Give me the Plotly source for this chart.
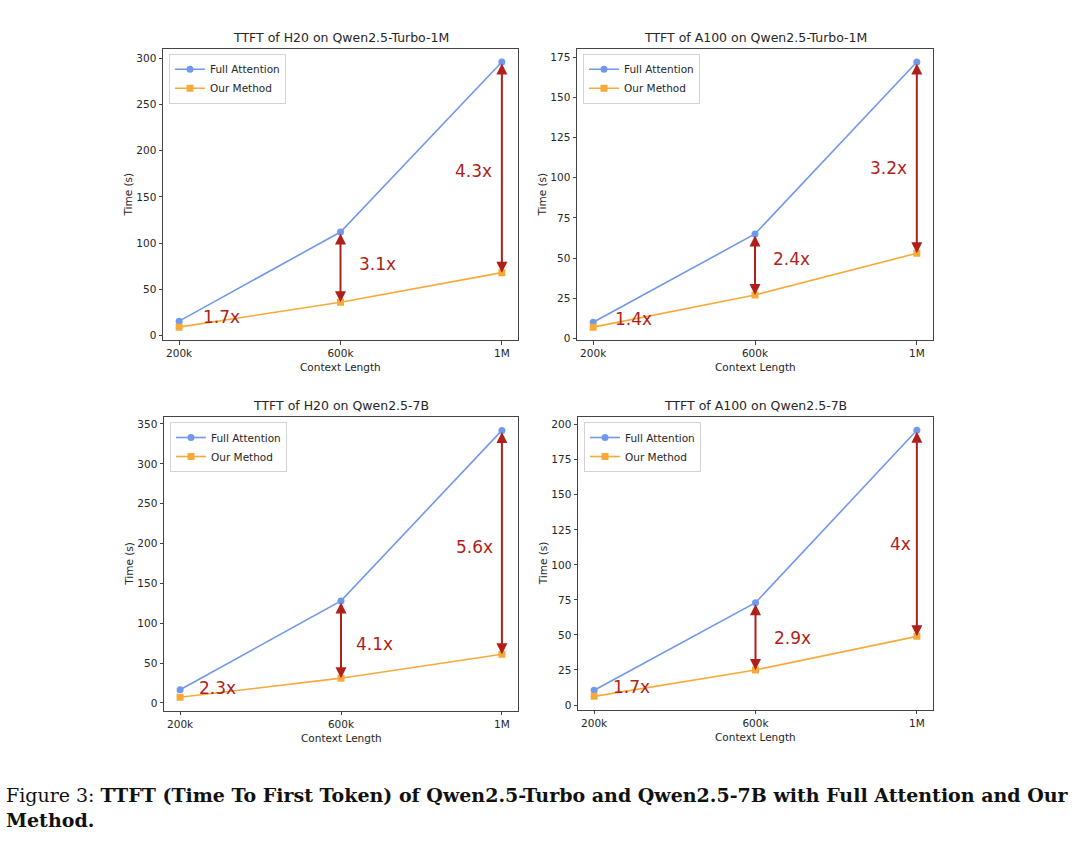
import plotly.graph_objects as go

# ---------------- data ----------------
categories = ["200k", "600k", "1M"]

titles = [
    "TTFT of H20 on Qwen2.5-Turbo-1M",
    "TTFT of A100 on Qwen2.5-Turbo-1M",
    "TTFT of H20 on Qwen2.5-7B",
    "TTFT of A100 on Qwen2.5-7B",
]

full_h20_turbo = [15.5, 112, 296]
ours_h20_turbo = [9, 36, 68]

full_a100_turbo = [10, 65, 172]
ours_a100_turbo = [7, 27, 53]

full_h20_7b = [16.5, 128, 342]
ours_h20_7b = [7, 31, 61]

full_a100_7b = [10.5, 73, 196]
ours_a100_7b = [6.2, 25, 49]

speedup_h20_turbo = ["1.7x", "3.1x", "4.3x"]
speedup_a100_turbo = ["1.4x", "2.4x", "3.2x"]
speedup_h20_7b = ["2.3x", "4.1x", "5.6x"]
speedup_a100_7b = ["1.7x", "2.9x", "4x"]

ytick_steps = [50, 25, 50, 25]

caption_prefix = "Figure 3: "
caption_bold_1 = "TTFT (Time To First Token) of Qwen2.5-Turbo and Qwen2.5-7B with Full Attention and Our"
caption_bold_2 = "Method."

# ---------------- layout / style ----------------
W, H = 1080, 850
BLUE = "#7099ec"
ORANGE = "#f6aa3a"
RED = "#b01f1a"
AXC = "#444444"
TXT = "#262626"
FONT = "DejaVu Sans"

# pixel boxes (left, top, right, bottom)
boxes = [
    (163, 49, 518, 342),
    (577, 49, 933, 342),
    (164, 419, 518, 714),
    (578, 419, 933, 713),
]

# label placement (x in category index units, y in data units)
label_pos = [
    [(0.135, 19.7), (1.10, 77), (1.70, 178)],
    [(0.124, 12.2), (1.10, 49.6), (1.70, 105.8)],
    [(0.107, 18.8), (1.08, 73.7), (1.70, 195.6)],
    [(0.105, 12.8), (1.10, 47.8), (1.82, 114.8)],
]

series = [
    (full_h20_turbo, ours_h20_turbo, speedup_h20_turbo),
    (full_a100_turbo, ours_a100_turbo, speedup_a100_turbo),
    (full_h20_7b, ours_h20_7b, speedup_h20_7b),
    (full_a100_7b, ours_a100_7b, speedup_a100_7b),
]

fig = go.Figure()
annotations = []
layout = dict(
    width=W, height=H,
    margin=dict(l=0, r=0, t=0, b=0),
    paper_bgcolor="white",
    plot_bgcolor="white",
    showlegend=True,
    font=dict(family=FONT, color=TXT, size=10.5),
)

for i, ((full, ours, labels), (l, t, r, b)) in enumerate(zip(series, boxes)):
    n = i + 1
    xa = "x" if n == 1 else f"x{n}"
    ya = "y" if n == 1 else f"y{n}"
    xkey = "xaxis" if n == 1 else f"xaxis{n}"
    ykey = "yaxis" if n == 1 else f"yaxis{n}"
    lkey = "legend" if n == 1 else f"legend{n}"

    fig.add_trace(go.Scatter(
        x=categories, y=full, mode="lines+markers", name="Full Attention",
        line=dict(color=BLUE, width=1.6), marker=dict(symbol="circle", size=7, color=BLUE),
        xaxis=xa, yaxis=ya, legend=lkey,
    ))
    fig.add_trace(go.Scatter(
        x=categories, y=ours, mode="lines+markers", name="Our Method",
        line=dict(color=ORANGE, width=1.6), marker=dict(symbol="square", size=7, color=ORANGE),
        xaxis=xa, yaxis=ya, legend=lkey,
    ))

    lo = min(min(full), min(ours))
    hi = max(max(full), max(ours))
    pad = (hi - lo) * 0.05

    layout[xkey] = dict(
        domain=[l / W, r / W], anchor=ya, type="category",
        range=[-0.1, len(categories) - 1 + 0.1],
        showline=True, mirror=True, linecolor=AXC, linewidth=1,
        ticks="outside", ticklen=3.5, tickcolor=AXC, tickwidth=1,
        showgrid=False, zeroline=False,
        tickfont=dict(size=10.5, color=TXT, family=FONT),
    )
    layout[ykey] = dict(
        domain=[1 - b / H, 1 - t / H], anchor=xa,
        range=[lo - pad, hi + pad], dtick=ytick_steps[i], tick0=0,
        showline=True, mirror=True, linecolor=AXC, linewidth=1,
        ticks="outside", ticklen=3.5, tickcolor=AXC, tickwidth=1,
        showgrid=False, zeroline=False,
        tickfont=dict(size=10.5, color=TXT, family=FONT),
    )
    layout[lkey] = dict(
        x=(l + 6) / W, y=1 - (t + 5) / H, xanchor="left", yanchor="top",
        bgcolor="rgba(255,255,255,0.85)", bordercolor="#d3d3d3", borderwidth=1,
        font=dict(size=10.5, color=TXT, family=FONT),
        itemwidth=30, tracegroupgap=0,
    )

    # subplot title
    annotations.append(dict(
        text=titles[i], xref=f"{xa} domain", yref=f"{ya} domain", x=0.5, y=1,
        yanchor="bottom", yshift=2, showarrow=False,
        font=dict(size=12.5, color=TXT, family=FONT),
    ))
    # axis labels
    annotations.append(dict(
        text="Context Length", xref=f"{xa} domain", yref=f"{ya} domain", x=0.5, y=0,
        yanchor="top", yshift=-19, showarrow=False,
        font=dict(size=10.5, color=TXT, family=FONT),
    ))
    annotations.append(dict(
        text="Time (s)", xref=f"{xa} domain", yref=f"{ya} domain", x=0, y=0.5,
        xanchor="center", xshift=-35, textangle=-90, showarrow=False,
        font=dict(size=10.5, color=TXT, family=FONT),
    ))

    # double-headed arrows at 600k and 1M
    for j in range(1, len(categories)):
        annotations.append(dict(
            x=j, y=ours[j], ax=j, ay=full[j],
            xref=xa, yref=ya, axref=xa, ayref=ya,
            showarrow=True, arrowside="end+start",
            arrowhead=2, startarrowhead=2, arrowsize=1.1, startarrowsize=1.1,
            arrowwidth=2, arrowcolor=RED, standoff=0, startstandoff=0, text="",
        ))
    # speedup labels
    for j, lab in enumerate(labels):
        px_, py_ = label_pos[i][j]
        annotations.append(dict(
            text=lab, x=px_, y=py_, xref=xa, yref=ya,
            xanchor="left", yanchor="middle", showarrow=False,
            font=dict(size=17, color=RED, family=FONT),
        ))

# caption
annotations.append(dict(
    text=(f"{caption_prefix}<b>{caption_bold_1}</b><br><b>{caption_bold_2}</b>"),
    xref="paper", yref="paper", x=4 / W, y=1 - 786 / H,
    xanchor="left", yanchor="top", align="left", showarrow=False,
    font=dict(size=19, color="#111111", family="DejaVu Serif"),
))

layout["annotations"] = annotations
fig.update_layout(**layout)
fig.write_html("out.html")
